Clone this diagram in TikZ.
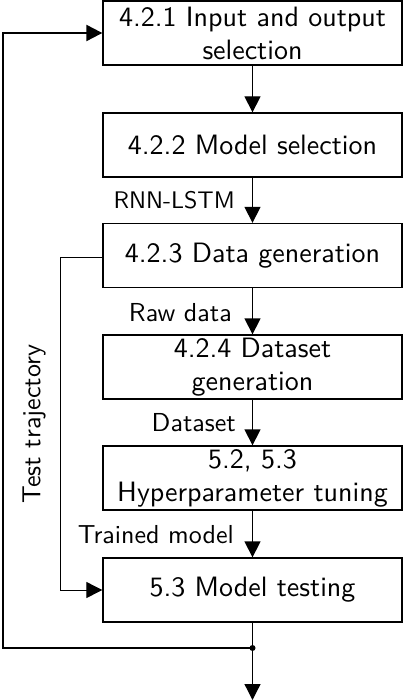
\documentclass[tikz,border=0pt]{standalone}
\usepackage{fontspec}
\newfontfamily\lmsten{lmsans10-regular.otf}
\usetikzlibrary{arrows.meta}
\begin{document}
\begin{tikzpicture}[x=1pt,y=-1pt,
  box/.style={draw,line width=1.3pt,minimum width=299pt,minimum height=64pt,inner sep=0pt,align=center,font=\lmsten\fontsize{28}{33}\selectfont},
  lbl/.style={anchor=east,inner sep=0pt,font=\lmsten\fontsize{26}{30}\selectfont},
  arr/.style={line width=1.3pt,-{Triangle[length=16pt,width=16pt]}},
  loop/.style={line width=2pt,-{Triangle[length=16pt,width=16pt]}},
  thin/.style={line width=0.9pt,-{Triangle[length=16pt,width=16pt]}}]
\useasboundingbox (0,0) rectangle (403,700);
\node[box] (b1) at (252.5,33) {4.2.1 Input and output\\selection};
\node[box] (b2) at (252.5,145) {4.2.2 Model selection};
\node[box] (b3) at (252.5,255.5) {4.2.3 Data generation};
\node[box] (b4) at (252.5,367) {4.2.4 Dataset\\generation};
\node[box] (b5) at (252.5,478) {5.2, 5.3\\Hyperparameter tuning};
\node[box] (b6) at (252.5,590) {5.3 Model testing};
\coordinate (dot) at (252.5,648);
\coordinate (end) at (252.5,700);
\coordinate (ll) at (2.5,648);
\coordinate (lt) at (2.5,33);
\coordinate (tt) at (60,257);
\coordinate (tb) at (60,590);
\fill (dot) circle (3pt);
\draw[arr] (b1) -- (b2);
\draw[arr] (b2) -- (b3);
\draw[arr] (b3) -- (b4);
\draw[arr] (b4) -- (b5);
\draw[arr] (b5) -- (b6);
\draw[line width=1.3pt] (b6.south) -- (dot);
\draw[arr] (dot) -- (end);
\draw[loop] (dot) -- (ll) -- (lt) -- (b1.west);
\draw[thin] (b3.west |- tt) -- (tt) -- (tb) -- (b6.west);
\node[lbl,font=\lmsten\fontsize{24}{28}\selectfont] (l1) at (235,200) {RNN-LSTM};
\node[lbl] (l2) at (232,313) {Raw data};
\node[lbl] (l3) at (236,423) {Dataset};
\node[lbl] (l4) at (234,535) {Trained model};
\node[rotate=90,inner sep=0pt,font=\lmsten\fontsize{26}{30}\selectfont] (tl) at (34,424) {Test trajectory};
\end{tikzpicture}
\end{document}
